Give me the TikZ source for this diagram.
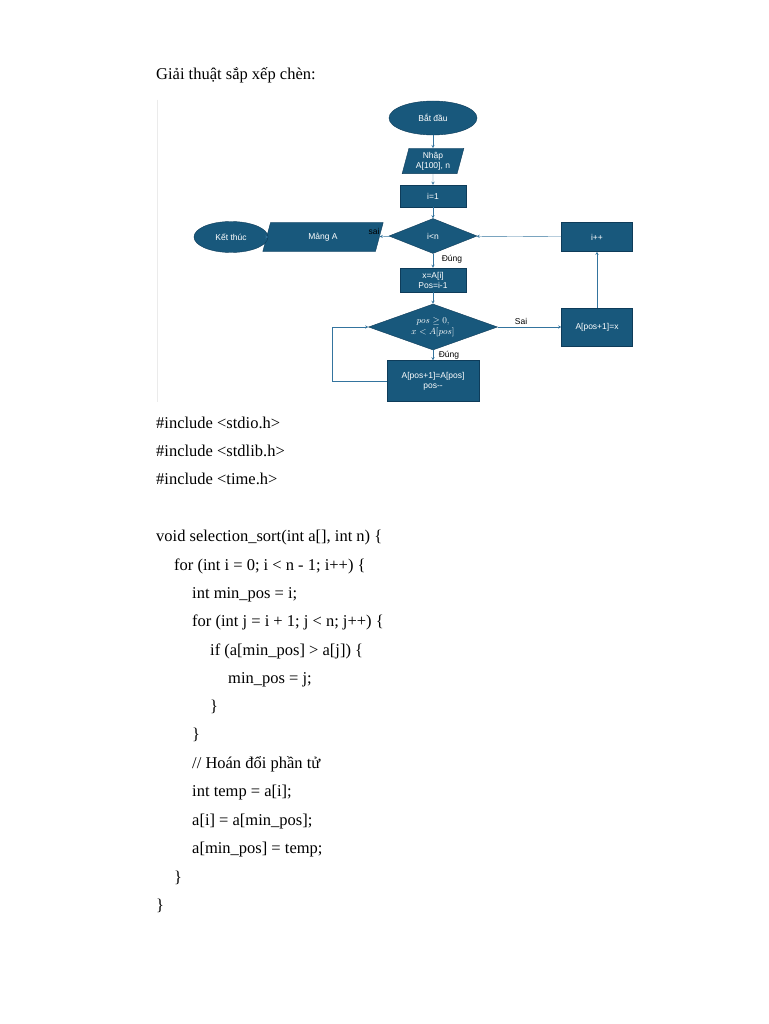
\documentclass[tikz,border=0pt]{standalone}
\usepackage{fontspec}
\setmainfont{Liberation Serif}
\newfontfamily\chartfont{Liberation Sans}
\usetikzlibrary{shapes.geometric}
\definecolor{boxblue}{RGB}{24,88,124}
\definecolor{edgeblue}{RGB}{14,60,90}
\definecolor{lineblue}{RGB}{52,116,158}
\begin{document}
\begin{tikzpicture}[x=1pt,y=-1pt,>=stealth,
  every node/.style={inner sep=0pt},
  blk/.style={draw=edgeblue,fill=boxblue,text=white,font=\chartfont\fontsize{8.5}{10}\selectfont,align=center},
  term/.style={blk,ellipse,minimum width=88pt,minimum height=34pt},
  io/.style={blk,trapezium,trapezium left angle=75,trapezium right angle=105,minimum height=25pt},
  proc/.style={blk,rectangle},
  dec/.style={blk,diamond,aspect=2.5},
  lab/.style={font=\chartfont\fontsize{8.5}{10}\selectfont},
  code/.style={anchor=base west,font=\fontsize{16.5}{19}\selectfont},
  arr/.style={->,draw=lineblue,thin}]
\useasboundingbox[fill=white] (0,0) rectangle (768,1024);
% title
\node[code] (title) at (156,80) {Giải thuật sắp xếp chèn:};
\draw[black!8] (157,100) -- (157,402);
% create the nodes
\node[term] (start) at (433,118) {Bắt đầu};
\node[io,minimum width=62pt] (in) at (433,161) {Nhập\\A[100], n};
\node[proc,minimum width=66pt,minimum height=22pt] (init) at (433,196) {i=1};
\node[dec,minimum width=88pt,minimum height=35pt] (cmp) at (433,236) {i<n};
\node[io,minimum width=60pt,minimum height=29pt] (out) at (323,237) {Mảng A};
\node[term,minimum width=74pt,minimum height=31pt] (end) at (231,237) {Kết thúc};
\node[proc,minimum width=71pt,minimum height=29pt] (inc) at (597,237) {i++};
\node[proc,minimum width=66pt,minimum height=24pt] (set) at (433,280) {x=A[i]\\Pos=i-1};
\node[dec,minimum width=129pt,minimum height=46pt,font=\fontsize{9}{11}\selectfont] (cond) at (433,327) {$pos \geq 0,$\\$x < A[pos]$};
\node[proc,minimum width=71pt,minimum height=38pt] (put) at (597,327) {A[pos+1]=x};
\node[proc,minimum width=92pt,minimum height=41pt] (shift) at (433,381) {A[pos+1]=A[pos]\\pos--};
\coordinate (lp) at (332,381);
\coordinate (lq) at (332,327);
% connect the nodes
\draw[arr] (start) -- (in);
\draw[arr] (in) -- (init);
\draw[arr] (init) -- (cmp);
\draw[arr] (cmp) -- (out);
\draw[arr] (out) -- (end);
\draw[arr] (cmp) -- (set);
\draw[arr] (set) -- (cond);
\draw[arr] (cond) -- (shift);
\draw[arr] (cond) -- (put);
\draw[arr] (put) -- (inc);
\draw[arr] (inc) -- (cmp);
\draw[arr] (shift.west) -- (lp) -- (lq) -- (cond.west);
\node[lab] (l1) at (374,231) {sai};
\node[lab] (l2) at (452,259) {Đúng};
\node[lab] (l3) at (521,321) {Sai};
\node[lab] (l4) at (449,355) {Đúng};
% code
\node[code] (c1) at (156,428) {\#include <stdio.h>};
\node[code] (c2) at (156,456) {\#include <stdlib.h>};
\node[code] (c3) at (156,484) {\#include <time.h>};
\node[code] (c4) at (156,541) {void selection\_sort(int a[], int n) \{};
\node[code] (c5) at (174,570) {for (int i = 0; i < n - 1; i++) \{};
\node[code] (c6) at (192,598) {int min\_pos = i;};
\node[code] (c7) at (192,626) {for (int j = i + 1; j < n; j++) \{};
\node[code] (c8) at (210,655) {if (a[min\_pos] > a[j]) \{};
\node[code] (c9) at (228,683) {min\_pos = j;};
\node[code] (c10) at (210,711) {\}};
\node[code] (c11) at (192,739) {\}};
\node[code] (c12) at (192,768) {// Hoán đổi phần tử};
\node[code] (c13) at (192,796) {int temp = a[i];};
\node[code] (c14) at (192,825) {a[i] = a[min\_pos];};
\node[code] (c15) at (192,853) {a[min\_pos] = temp;};
\node[code] (c16) at (174,882) {\}};
\node[code] (c17) at (156,910) {\}};
\end{tikzpicture}
\end{document}
